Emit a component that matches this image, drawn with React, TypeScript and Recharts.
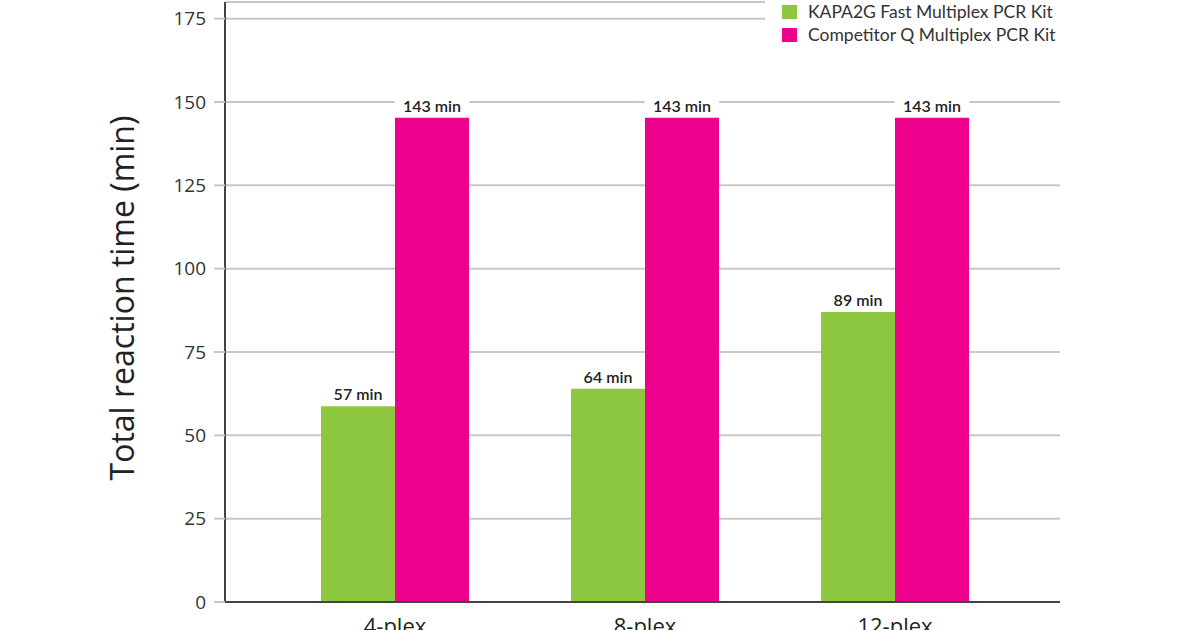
import React from "react";
import {
  BarChart,
  Bar,
  XAxis,
  YAxis,
  CartesianGrid,
  Legend,
  LabelList,
} from "recharts";

const categories = ["4-plex", "8-plex", "12-plex"];
const kapaValues = [58.7, 64.0, 87.0];
const competitorValues = [145.3, 145.3, 145.3];
const kapaLabels = ["57 min", "64 min", "89 min"];
const competitorLabels = ["143 min", "143 min", "143 min"];
const yTicks = [0, 25, 50, 75, 100, 125, 150, 175];

const GREEN = "#8dc63f";
const MAGENTA = "#ec008c";

const data = categories.map((name, i) => ({
  name,
  kapa: kapaValues[i],
  competitor: competitorValues[i],
  kapaLabel: kapaLabels[i],
  competitorLabel: competitorLabels[i],
}));

function BarTopLabel(props: any) {
  const { x, y, width, value } = props;
  const cx = x + width / 2;
  const w = String(value).length * 9.5 + 8;
  return (
    <g>
      <rect x={cx - w / 2} y={y - 22} width={w} height={19} fill="#fff" />
      <text
        x={cx}
        y={y - 6}
        textAnchor="middle"
        fontSize={16}
        fontWeight={600}
        fill="#222"
        fontFamily="Lato"
      >
        {value}
      </text>
    </g>
  );
}

function XTick(props: any) {
  const { x, payload } = props;
  return (
    <text x={x} y={634} textAnchor="middle" fontSize={22} fill="#222" fontFamily="Open Sans">
      {payload.value}
    </text>
  );
}

function YTitle(props: any) {
  const { viewBox } = props;
  const cy = viewBox.y + viewBox.height / 2 - 4;
  return (
    <text
      x={121}
      y={cy}
      transform={`rotate(-90, 121, ${cy})`}
      textAnchor="middle"
      dominantBaseline="central"
      fontSize={32}
      fill="#222"
      fontFamily="Open Sans"
    >
      Total reaction time (min)
    </text>
  );
}

function LegendBox() {
  const items = [
    { label: "KAPA2G Fast Multiplex PCR Kit", color: GREEN },
    { label: "Competitor Q Multiplex PCR Kit", color: MAGENTA },
  ];
  return (
    <div style={{ background: "#fff", padding: "0 0 6px 17px", fontFamily: "Lato", fontSize: 17.5, color: "#333" }}>
      {items.map((it) => (
        <div key={it.label} style={{ display: "flex", alignItems: "center", height: 23 }}>
          <span style={{ width: 15, height: 14, background: it.color, marginRight: 11, display: "inline-block" }} />
          <span>{it.label}</span>
        </div>
      ))}
    </div>
  );
}

export default function App() {
  return (
    <div style={{ position: "absolute", left: 0, top: 0, width: 1198, height: 630, overflow: "hidden", background: "#fff" }}>
      <BarChart
        width={1198}
        height={662}
        data={data}
        margin={{ top: 2, right: 138, bottom: 0, left: 100 }}
        barGap={0}
      >
        <CartesianGrid vertical={false} stroke="#c8c8c8" strokeWidth={2} />
        <XAxis
          dataKey="name"
          height={60}
          padding={{ left: 45, right: 40 }}
          tickLine={false}
          axisLine={{ stroke: "#444", strokeWidth: 2 }}
          tick={<XTick />}
        />
        <YAxis
          width={125}
          domain={[0, 180]}
          ticks={yTicks}
          tickSize={11}
          tickMargin={8}
          tickLine={{ stroke: "#c8c8c8", strokeWidth: 2 }}
          axisLine={{ stroke: "#444", strokeWidth: 2 }}
          tick={{ fontSize: 19, fill: "#333", fontFamily: "Open Sans" }}
          label={<YTitle />}
        />
        <Legend
          content={<LegendBox />}
          layout="horizontal"
          verticalAlign="middle"
          align="center"
          wrapperStyle={{ top: 0, left: 765, width: 310 }}
        />
        <Bar dataKey="kapa" fill={GREEN} barSize={74} isAnimationActive={false}>
          <LabelList dataKey="kapaLabel" content={<BarTopLabel />} />
        </Bar>
        <Bar dataKey="competitor" fill={MAGENTA} barSize={74} isAnimationActive={false}>
          <LabelList dataKey="competitorLabel" content={<BarTopLabel />} />
        </Bar>
      </BarChart>
    </div>
  );
}
